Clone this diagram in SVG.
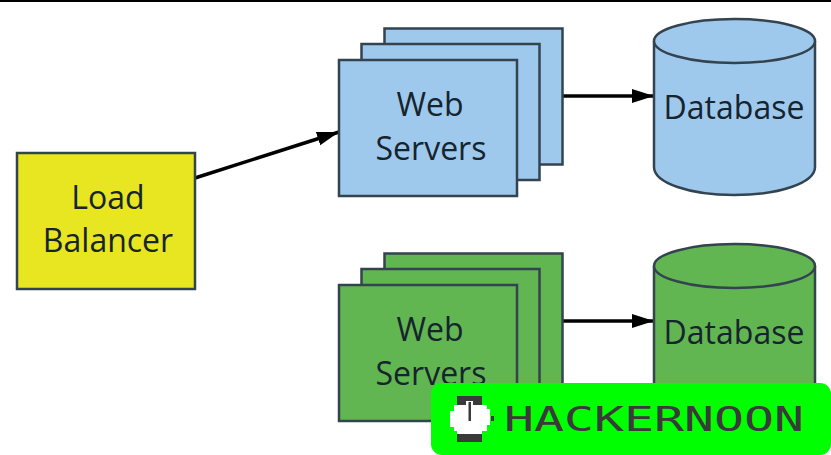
<svg xmlns="http://www.w3.org/2000/svg" width="831" height="455" viewBox="0 0 831 455">
<style>
.box{stroke:#33434f;stroke-width:2.500}
.blue{fill:#9fc9ec}
.green{fill:#62b651}
.yellow{fill:#e8e521}
text{font-family:"Open Sans","Noto Sans","Liberation Sans",sans-serif;font-size:32px;fill:#16242e;text-anchor:middle}
.conn{stroke:#000;stroke-width:3.500;fill:none;marker-end:url(#arrow)}
.hn{font-family:"DejaVu Sans Mono","Liberation Mono",monospace;font-size:34px;fill:#3a3a3a;text-anchor:start}
</style>
<defs>
<marker id="arrow" markerUnits="userSpaceOnUse" markerWidth="24" markerHeight="16" refX="22" refY="7" orient="auto"><path d="M0 0L22 7L0 14Z" fill="#000"/></marker>
<g id="stack"><rect x="384.500" y="28.500" width="178" height="136"/><rect x="361.500" y="44" width="178" height="136"/><rect x="339" y="60" width="178" height="136"/></g>
</defs>
<rect width="831" height="455" fill="#fff"/>
<rect width="831" height="2" fill="#000"/>
<g id="connectors">
<path class="conn" d="M195 178L339 132"/>
<path class="conn" d="M562 96L654 96"/>
<path class="conn" d="M562 321L654 321"/>
</g>
<g id="load-balancer"><rect class="box yellow" x="17" y="153" width="178" height="136"/><text x="108" y="209">Load</text><text x="108" y="252">Balancer</text></g>
<g id="web-servers-blue"><g class="box blue"><use href="#stack"/></g><text x="430" y="116">Web</text><text x="431" y="160">Servers</text></g>
<g id="database-blue"><path class="box blue" d="M654 41V167C654 183 690 195 734 195C779 195 815 183 815 167V41"/><ellipse class="box blue" cx="734.500" cy="41" rx="80.500" ry="22"/><text x="734" y="119">Database</text></g>
<g id="web-servers-green"><g class="box green" transform="translate(0 225)"><use href="#stack"/></g><text x="430" y="341">Web</text><text x="431" y="385">Servers</text></g>
<g id="database-green"><path class="box green" d="M654 266V392C654 408 690 420 734 420C779 420 815 408 815 392V266"/><ellipse class="box green" cx="734.500" cy="266" rx="80.500" ry="22"/><text x="734" y="344">Database</text></g>
<g id="hackernoon-badge">
<rect x="431" y="383" width="400" height="72" rx="11" fill="#00ff00"/>
<path d="M457 396H482V405H487V409H490V425H487V431H482V442H457V431H454V427H450V411H454V405H457Z" fill="#fff"/>
<path d="M457 396H482V405H473V401H466V405H457ZM457 434H482V442H457ZM491 416H494V421H491Z" fill="#3a3a3a"/>
<rect x="468.500" y="402" width="2.500" height="19" fill="#3a3a3a"/>
<text class="hn" x="504" y="431" textLength="300" lengthAdjust="spacingAndGlyphs">HACKERNOON</text>
</g>
</svg>
